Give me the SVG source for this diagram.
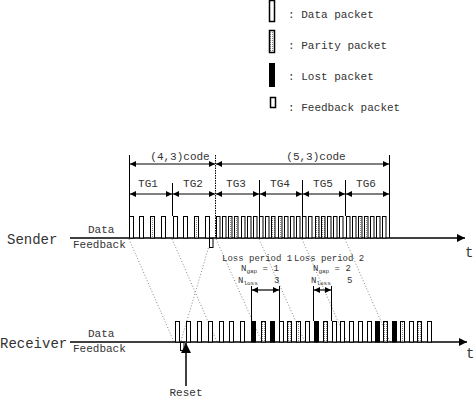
<svg xmlns="http://www.w3.org/2000/svg" width="474" height="400" viewBox="0 0 474 400">
<style>
text{font-family:"Liberation Mono","DejaVu Sans Mono",monospace;fill:#333}
.lg{font-size:11px}
.lb{font-size:11px}
.big{font-size:14px}
.sm{font-size:9px}
.pk{fill:#fff;stroke:#000;stroke-width:1}
.par{fill:url(#dots);stroke:#000;stroke-width:1}
.lost{fill:#000;stroke:#000;stroke-width:1}
.ax{stroke:#000;stroke-width:1.5;fill:none}
.vl{stroke:#000;stroke-width:1;fill:none}
.dim{stroke:#000;stroke-width:1.2;fill:none;marker-start:url(#ah);marker-end:url(#ah)}
.dot{stroke:#888;stroke-width:1;stroke-dasharray:1 2;fill:none}
</style>
<defs>
<pattern id="dots" width="2" height="2" patternUnits="userSpaceOnUse"><rect width="2" height="2" fill="#fff"/><rect width="1" height="1" fill="#888"/></pattern>
<marker id="ah" viewBox="0 0 10 10" refX="10" refY="5" markerWidth="6" markerHeight="6" markerUnits="userSpaceOnUse" orient="auto-start-reverse"><path d="M0,0 L10,5 L0,10 Z" fill="#000"/></marker>
<marker id="axh" viewBox="0 0 10 10" refX="10" refY="5" markerWidth="8" markerHeight="8" markerUnits="userSpaceOnUse" orient="auto"><path d="M0,0 L10,5 L0,10 Z" fill="#000"/></marker>
<marker id="rh" viewBox="0 0 10 10" refX="10" refY="5" markerWidth="12" markerHeight="10" markerUnits="userSpaceOnUse" orient="auto"><path d="M0,0 L10,5 L0,10 Z" fill="#000"/></marker>
</defs>
<rect width="474" height="400" fill="#fff"/>

<g id="legend">
<rect x="269.5" y="0.5" width="5" height="21" fill="#fff" stroke="#000" stroke-width="1.5"/>
<text class="lg" x="288" y="18">: Data packet</text>
<rect x="269.5" y="30.5" width="5" height="22" fill="url(#dots)" stroke="#000" stroke-width="1.5"/>
<text class="lg" x="288" y="49">: Parity packet</text>
<rect x="269.5" y="63.5" width="5" height="23" fill="#000" stroke="#000" stroke-width="1"/>
<text class="lg" x="288" y="80">: Lost packet</text>
<rect x="270.5" y="97.5" width="5" height="10" fill="#fff" stroke="#000" stroke-width="1.5"/>
<text class="lg" x="288" y="111">: Feedback packet</text>
</g>

<g id="sender">
<text class="big" x="7" y="244">Sender</text>
<text class="lb" x="88" y="233">Data</text>
<text class="lb" x="73" y="248">Feedback</text>
<line class="ax" x1="70" y1="238" x2="465" y2="238" marker-end="url(#axh)"/>
<text class="big" x="465" y="257">t</text>
<g id="sender-packets">
<rect class="pk" x="129.5" y="216.5" width="4" height="21.5"/>
<rect class="pk" x="139.5" y="216.5" width="4" height="21.5"/>
<rect class="par" x="150.5" y="216.5" width="4" height="21.5"/>
<rect class="pk" x="161.5" y="216.5" width="4" height="21.5"/>
<rect class="pk" x="173.5" y="216.5" width="4" height="21.5"/>
<rect class="pk" x="183.5" y="216.5" width="4" height="21.5"/>
<rect class="par" x="194.5" y="216.5" width="4" height="21.5"/>
<rect class="pk" x="205.5" y="216.5" width="4" height="21.5"/>
<rect class="pk" x="216.5" y="216.5" width="3.5" height="21.5"/>
<rect class="pk" x="222.5" y="216.5" width="3.5" height="21.5"/>
<rect class="par" x="228.5" y="216.5" width="3.5" height="21.5"/>
<rect class="par" x="234.5" y="216.5" width="3.5" height="21.5"/>
<rect class="pk" x="241.5" y="216.5" width="3.5" height="21.5"/>
<rect class="pk" x="247.5" y="216.5" width="3.5" height="21.5"/>
<rect class="pk" x="253.5" y="216.5" width="3.5" height="21.5"/>
<rect class="pk" x="259.5" y="216.5" width="3.5" height="21.5"/>
<rect class="pk" x="265.5" y="216.5" width="3.5" height="21.5"/>
<rect class="par" x="271.5" y="216.5" width="3.5" height="21.5"/>
<rect class="par" x="278.5" y="216.5" width="3.5" height="21.5"/>
<rect class="pk" x="284.5" y="216.5" width="3.5" height="21.5"/>
<rect class="pk" x="290.5" y="216.5" width="3.5" height="21.5"/>
<rect class="pk" x="296.5" y="216.5" width="3.5" height="21.5"/>
<rect class="pk" x="302.5" y="216.5" width="3.5" height="21.5"/>
<rect class="pk" x="308.5" y="216.5" width="3.5" height="21.5"/>
<rect class="par" x="315.5" y="216.5" width="3.5" height="21.5"/>
<rect class="par" x="321.5" y="216.5" width="3.5" height="21.5"/>
<rect class="pk" x="327.5" y="216.5" width="3.5" height="21.5"/>
<rect class="pk" x="333.5" y="216.5" width="3.5" height="21.5"/>
<rect class="pk" x="339.5" y="216.5" width="3.5" height="21.5"/>
<rect class="pk" x="346.5" y="216.5" width="3.5" height="21.5"/>
<rect class="pk" x="352.5" y="216.5" width="3.5" height="21.5"/>
<rect class="par" x="358.5" y="216.5" width="3.5" height="21.5"/>
<rect class="par" x="364.5" y="216.5" width="3.5" height="21.5"/>
<rect class="pk" x="370.5" y="216.5" width="3.5" height="21.5"/>
<rect class="pk" x="376.5" y="216.5" width="3.5" height="21.5"/>
<rect class="pk" x="382.5" y="216.5" width="3.5" height="21.5"/>
</g>
<rect class="pk" x="209.5" y="238.5" width="3.5" height="9"/>
</g>

<g id="groups">
<line class="vl" x1="129.5" y1="155" x2="129.5" y2="238"/>
<line class="vl" x1="172.5" y1="183" x2="172.5" y2="216"/>
<line x1="215.5" y1="155" x2="215.5" y2="238" stroke="#000" stroke-width="1" stroke-dasharray="1.5 1"/>
<line class="vl" x1="259.5" y1="180" x2="259.5" y2="216"/>
<line class="vl" x1="302.5" y1="180" x2="302.5" y2="216"/>
<line class="vl" x1="345.5" y1="180" x2="345.5" y2="216"/>
<line class="vl" x1="389.5" y1="155" x2="389.5" y2="238"/>
<line class="dim" x1="130" y1="164" x2="215" y2="164"/>
<line class="dim" x1="216" y1="164" x2="389" y2="164"/>
<text class="lb" x="180" y="160" text-anchor="middle">(4,3)code</text>
<text class="lb" x="316" y="160" text-anchor="middle">(5,3)code</text>
<line class="dim" x1="130" y1="194" x2="172" y2="194"/>
<line class="dim" x1="173" y1="194" x2="215" y2="194"/>
<line class="dim" x1="216" y1="194" x2="259" y2="194"/>
<line class="dim" x1="260" y1="194" x2="302" y2="194"/>
<line class="dim" x1="303" y1="194" x2="345" y2="194"/>
<line class="dim" x1="346" y1="194" x2="389" y2="194"/>
<text class="lb" x="148" y="187" text-anchor="middle">TG1</text>
<text class="lb" x="193" y="187" text-anchor="middle">TG2</text>
<text class="lb" x="236" y="187" text-anchor="middle">TG3</text>
<text class="lb" x="280" y="187" text-anchor="middle">TG4</text>
<text class="lb" x="323" y="187" text-anchor="middle">TG5</text>
<text class="lb" x="366" y="187" text-anchor="middle">TG6</text>
</g>

<g id="connectors">
<line class="dot" x1="129" y1="239" x2="174" y2="342"/>
<line class="dot" x1="172" y1="239" x2="217" y2="342"/>
<line class="dot" x1="216" y1="239" x2="262" y2="342"/>
<line class="dot" x1="259" y1="239" x2="305" y2="342"/>
<line class="dot" x1="302" y1="239" x2="347" y2="342"/>
<line class="dot" x1="345" y1="239" x2="390" y2="342"/>
<line class="dot" x1="181" y1="341" x2="209" y2="246"/>
</g>

<g id="receiver">
<text class="big" x="0" y="348">Receiver</text>
<text class="lb" x="88" y="337">Data</text>
<text class="lb" x="73" y="352">Feedback</text>
<line class="ax" x1="70" y1="342" x2="467" y2="342" marker-end="url(#axh)"/>
<text class="big" x="466" y="358">t</text>
<g id="receiver-packets">
<rect class="pk" x="175.5" y="321.5" width="4" height="20.5"/>
<rect class="pk" x="186.5" y="321.5" width="4" height="20.5"/>
<rect class="pk" x="197.5" y="321.5" width="4" height="20.5"/>
<rect class="pk" x="208.5" y="321.5" width="4" height="20.5"/>
<rect class="pk" x="219.5" y="321.5" width="4" height="20.5"/>
<rect class="pk" x="229.5" y="321.5" width="4" height="20.5"/>
<rect class="pk" x="240.5" y="321.5" width="4" height="20.5"/>
<rect class="lost" x="251.5" y="321.5" width="4" height="20.5"/>
<rect class="par" x="261.5" y="321.5" width="4" height="20.5"/>
<rect class="lost" x="270.5" y="321.5" width="4" height="20.5"/>
<rect class="pk" x="279.5" y="321.5" width="4" height="20.5"/>
<rect class="par" x="287.5" y="321.5" width="4" height="20.5"/>
<rect class="par" x="296.5" y="321.5" width="4" height="20.5"/>
<rect class="pk" x="305.5" y="321.5" width="4" height="20.5"/>
<rect class="lost" x="314.5" y="321.5" width="4" height="20.5"/>
<rect class="par" x="323.5" y="321.5" width="4" height="20.5"/>
<rect class="pk" x="332.5" y="321.5" width="4" height="20.5"/>
<rect class="pk" x="340.5" y="321.5" width="4" height="20.5"/>
<rect class="pk" x="349.5" y="321.5" width="4" height="20.5"/>
<rect class="pk" x="358.5" y="321.5" width="4" height="20.5"/>
<rect class="pk" x="367.5" y="321.5" width="4" height="20.5"/>
<rect class="lost" x="375.5" y="321.5" width="4" height="20.5"/>
<rect class="par" x="383.5" y="321.5" width="4" height="20.5"/>
<rect class="lost" x="392.5" y="321.5" width="4" height="20.5"/>
<rect class="par" x="400.5" y="321.5" width="4" height="20.5"/>
<rect class="pk" x="409.5" y="321.5" width="4" height="20.5"/>
<rect class="par" x="417.5" y="321.5" width="4" height="20.5"/>
<rect class="pk" x="427.5" y="321.5" width="4" height="20.5"/>
</g>
<rect class="pk" x="180.5" y="342.5" width="3.5" height="8"/>
</g>

<g id="loss-periods">
<text class="sm" x="222" y="261">Loss period 1</text>
<text class="sm" x="294" y="261">Loss period 2</text>
<text class="sm" x="241" y="271">N<tspan font-size="6" dy="2">gap</tspan><tspan dy="-2"> = 1</tspan></text>
<text class="sm" x="238" y="283">N<tspan font-size="6" dy="2">loss</tspan></text>
<text class="sm" x="274" y="283">3</text>
<text class="sm" x="313" y="271">N<tspan font-size="6" dy="2">gap</tspan><tspan dy="-2"> = 2</tspan></text>
<text class="sm" x="311" y="283">N<tspan font-size="6" dy="2">loss</tspan></text>
<text class="sm" x="347" y="283">5</text>
<line class="vl" x1="251.5" y1="286" x2="251.5" y2="321"/>
<line class="vl" x1="279.5" y1="286" x2="279.5" y2="321"/>
<line class="vl" x1="313.5" y1="286" x2="313.5" y2="321"/>
<line class="vl" x1="331.5" y1="286" x2="331.5" y2="321"/>
<line class="dim" x1="252" y1="290" x2="279" y2="290"/>
<line class="dim" x1="314" y1="290" x2="331" y2="290"/>
</g>

<g id="reset">
<line x1="186" y1="386" x2="186" y2="343" stroke="#000" stroke-width="1.5" marker-end="url(#rh)"/>
<text class="lb" x="186" y="396" text-anchor="middle">Reset</text>
</g>
</svg>
